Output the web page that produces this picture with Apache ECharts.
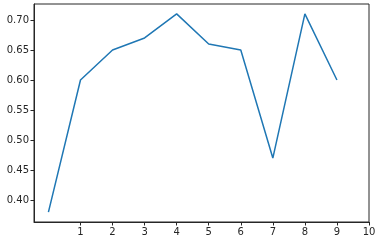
<!DOCTYPE html>
<html><head><meta charset="utf-8">
<script src="https://cdn.jsdelivr.net/npm/echarts@6/dist/echarts.min.js"></script>
<style>html,body{margin:0;padding:0;background:#fff}#c{width:380px;height:245px}</style>
</head><body><div id="c"></div>
<script>
const xValues = [0, 1, 2, 3, 4, 5, 6, 7, 8, 9];
const yValues = [0.38, 0.60, 0.65, 0.67, 0.71, 0.66, 0.65, 0.47, 0.71, 0.60];
const xTicks = [1, 2, 3, 4, 5, 6, 7, 8, 9, 10];
const yTicks = [0.40, 0.45, 0.50, 0.55, 0.60, 0.65, 0.70];

const chart = echarts.init(document.getElementById('c'), null, {renderer: 'canvas'});
const txt = {fontFamily: 'DejaVu Sans', fontSize: 10, color: '#262626'};
chart.setOption({
  animation: false,
  grid: {left: 34, top: 4, right: 11, bottom: 23, show: true, borderColor: '#262626', borderWidth: 1},
  xAxis: {
    type: 'value', min: -0.45, max: 10,
    splitLine: {show: false},
    axisLine: {show: true, onZero: false, lineStyle: {color: '#262626', width: 1}},
    axisTick: {show: true, length: 3.5, customValues: xTicks, lineStyle: {color: '#262626'}},
    axisLabel: Object.assign({customValues: xTicks, margin: 5, formatter: v => String(v)}, txt)
  },
  yAxis: {
    type: 'value', min: 0.3635, max: 0.7265,
    splitLine: {show: false},
    axisLine: {show: true, onZero: false, lineStyle: {color: '#262626', width: 1}},
    axisTick: {show: true, length: 3.5, customValues: yTicks, lineStyle: {color: '#262626'}},
    axisLabel: Object.assign({customValues: yTicks, margin: 5, formatter: v => v.toFixed(2)}, txt)
  },
  series: [{
    type: 'line',
    data: xValues.map((x, i) => [x, yValues[i]]),
    showSymbol: false,
    lineStyle: {color: '#1f77b4', width: 1.5},
    itemStyle: {color: '#1f77b4'}
  }]
});
</script></body></html>
